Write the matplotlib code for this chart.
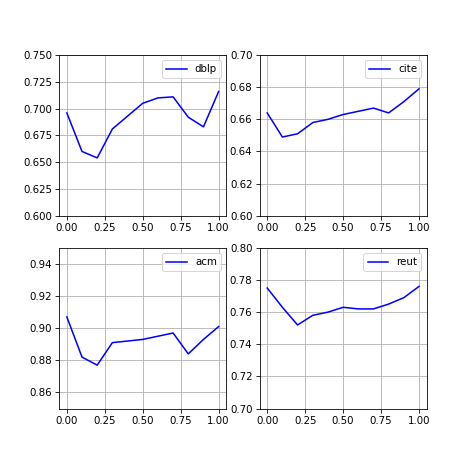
import numpy as np
import matplotlib
matplotlib.use('Agg')
import matplotlib.pyplot as plt

x = [0.0, 0.1, 0.2, 0.3, 0.4, 0.5, 0.6, 0.7, 0.8, 0.9, 1.0]

dblp = [0.696, 0.660, 0.654, 0.681, 0.693, 0.705, 0.710, 0.711, 0.692, 0.683, 0.716]
cite = [0.664, 0.649, 0.651, 0.658, 0.660, 0.663, 0.665, 0.667, 0.664, 0.671, 0.679]
acm = [0.907, 0.882, 0.877, 0.891, 0.892, 0.893, 0.895, 0.897, 0.884, 0.893, 0.901]
reut = [0.775, 0.763, 0.752, 0.758, 0.760, 0.763, 0.762, 0.762, 0.765, 0.769, 0.776]

names = ['dblp', 'cite', 'acm', 'reut']
series = [dblp, cite, acm, reut]
limits = [(0.6, 0.75), (0.6, 0.7), (0.85, 0.95), (0.7, 0.8)]
yticks = [np.arange(0.6, 0.7501, 0.025), np.arange(0.6, 0.7001, 0.02),
	np.arange(0.86, 0.9401, 0.02), np.arange(0.7, 0.8001, 0.02)]
yfmt = ['%.3f', '%.2f', '%.2f', '%.2f']
xticks = [0.0, 0.25, 0.5, 0.75, 1.0]

# original looks like a 100 dpi figure shrunk down, so render at 74 dpi
dpi = 74
fig, axes = plt.subplots(2, 2, figsize=(474 / dpi, 459 / dpi), dpi=dpi)

for ax, name, y, lim, yt, fmt in zip(axes.flat, names, series, limits, yticks, yfmt):
	ax.plot(x, y, c='b', label=name)
	ax.set_ylim(lim)
	ax.set_xticks(xticks)
	ax.set_xticklabels(['%.2f' % t for t in xticks])
	ax.set_yticks(yt)
	ax.set_yticklabels([fmt % t for t in yt])
	ax.grid(True)
	ax.legend(loc='upper right')

fig.savefig('out.png', dpi=dpi)
plt.close('all')
